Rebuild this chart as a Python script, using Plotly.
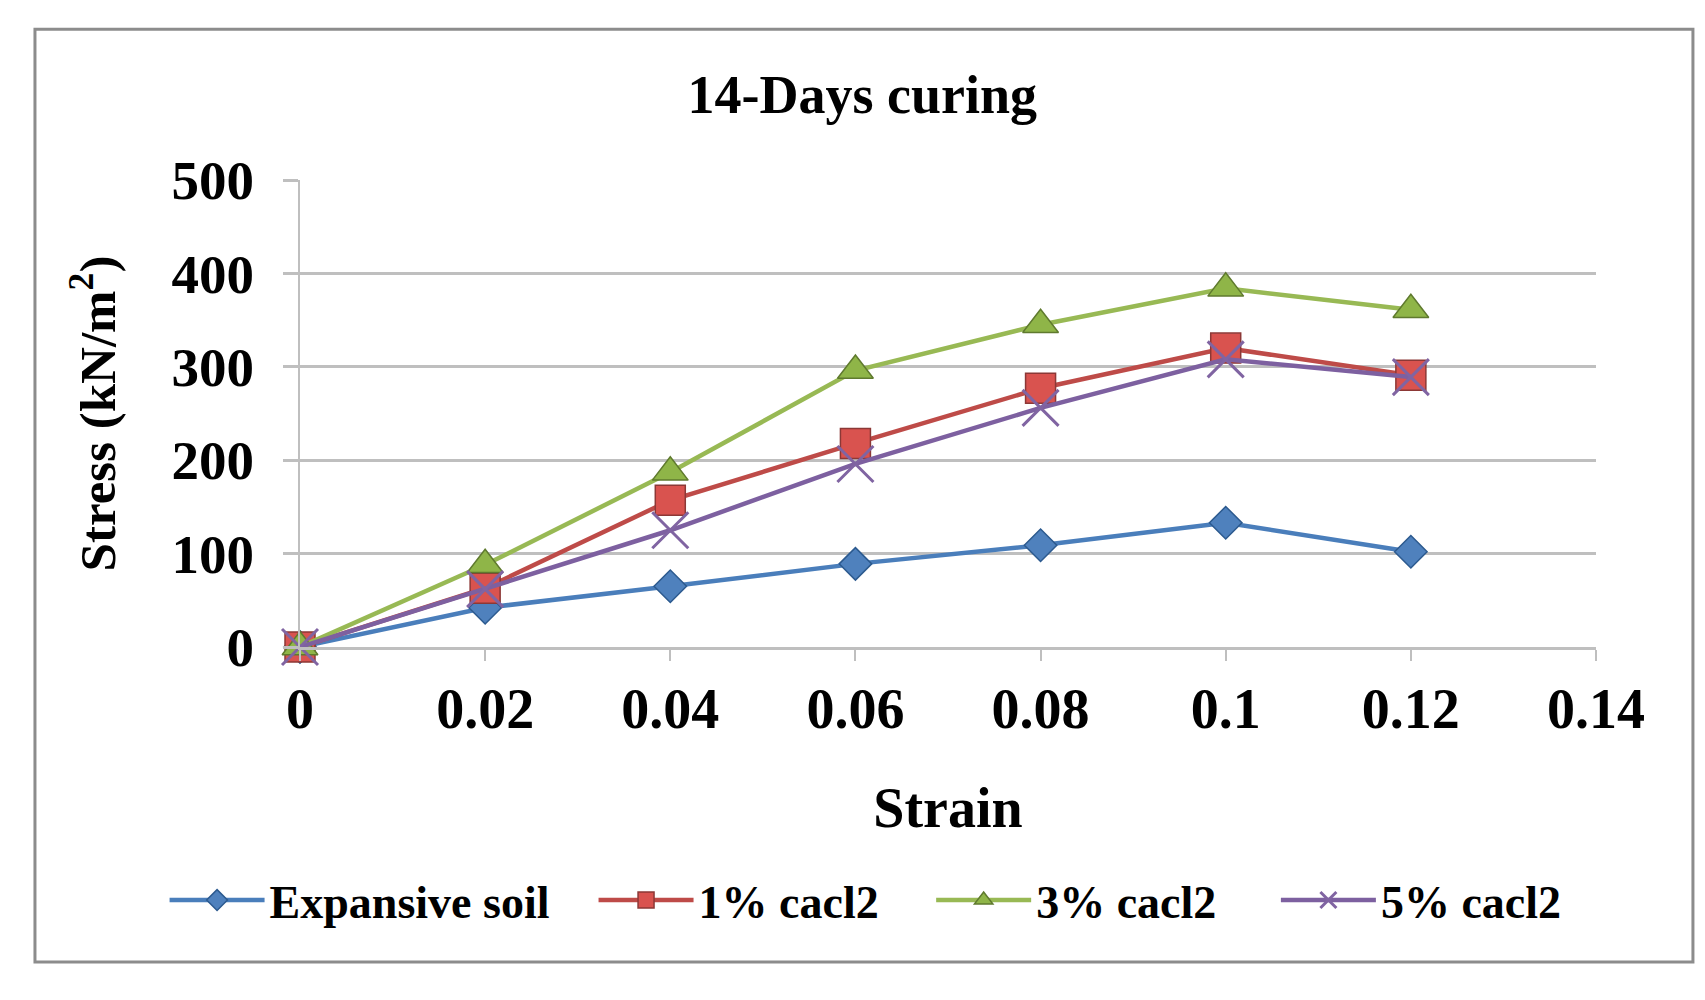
import plotly.graph_objects as go

strain = [0, 0.02, 0.04, 0.06, 0.08, 0.1, 0.12]
expansive_soil = [0, 42, 65, 89, 109, 133, 102]
cacl2_1 = [0, 63, 157, 218, 277, 320, 291]
cacl2_3 = [0, 88, 187, 296, 345, 384, 361]
cacl2_5 = [0, 62, 125, 196, 256, 308, 289]

x_ticks = [0, 0.02, 0.04, 0.06, 0.08, 0.1, 0.12, 0.14]
x_ticktext = ["0", "0.02", "0.04", "0.06", "0.08", "0.1", "0.12", "0.14"]
y_ticks = [0, 100, 200, 300, 400, 500]

FONT = "Liberation Serif, Times New Roman, serif"

# name, values, line colour, marker colour, marker edge, symbol, size, edge width, legend id, legend x
series = [
    ("Expansive soil", expansive_soil, "#4a7ebb", "#4f81bd", "#2c5a8f", "diamond", 25, 1.5, "legend", -0.1045),
    ("1% cacl2", cacl2_1, "#be4b48", "#d9534f", "#8c3836", "square", 30, 1.5, "legend2", 0.2265),
    ("3% cacl2", cacl2_3, "#98b954", "#8fb548", "#5f7a2e", "triangle-up", 31, 1.5, "legend3", 0.487),
    ("5% cacl2", cacl2_5, "#7d60a0", "#8064a2", "#8064a2", "x-thin", 36, 3, "legend4", 0.753),
]

fig = go.Figure()
legends = {}
for name, vals, lc, mc, bc, sym, size, bw, leg, lx in series:
    fig.add_trace(go.Scatter(
        x=strain, y=vals, name="<b>%s</b>" % name, mode="lines+markers",
        line=dict(color=lc, width=4.5),
        marker=dict(symbol=sym, size=size, color=mc,
                    line=dict(color=bc, width=bw)),
        cliponaxis=False, legend=leg,
    ))
    legends[leg] = dict(orientation="h", x=lx, xanchor="left", y=-0.542, yanchor="middle",
                        font=dict(size=46, family=FONT, color="black"), itemwidth=95,
                        bgcolor="rgba(0,0,0,0)")

# outer chart border
fig.add_shape(type="rect", xref="paper", yref="paper",
              x0=-0.2045, x1=1.0748, y0=-0.6745, y1=1.323,
              line=dict(color="#8c8c8c", width=3), layer="below")

fig.update_layout(
    width=1705, height=1000,
    margin=dict(l=292, r=117, t=172, b=361),
    paper_bgcolor="white", plot_bgcolor="white",
    font=dict(family=FONT, color="black"),
    title=dict(text="<b>14-Days curing</b>", x=0.501, xanchor="center",
               y=0.914, yanchor="middle", font=dict(size=54)),
    showlegend=True,
    xaxis=dict(
        range=[0, 0.14], tickvals=x_ticks, ticktext=["<b>%s</b>" % t for t in x_ticktext],
        tickfont=dict(size=56), showgrid=False, zeroline=False,
        showline=True, linecolor="#bfbfbf", linewidth=3,
        ticks="outside", ticklen=11, tickwidth=2, tickcolor="#bfbfbf",
        ticklabelstandoff=0,
        title=dict(text="<b>Strain</b>", font=dict(size=56), standoff=49),
    ),
    yaxis=dict(
        range=[0, 500], tickvals=y_ticks, ticktext=["<b>%d</b>" % t for t in y_ticks],
        tickfont=dict(size=55), showgrid=True, gridcolor="#bfbfbf", gridwidth=3,
        zeroline=False, showline=True, linecolor="#bfbfbf", linewidth=2,
        ticks="outside", ticklen=15, tickwidth=3, tickcolor="#bfbfbf",
        ticklabelstandoff=18,
        title=dict(text="<b>Stress (kN/m<sup>2</sup>)</b>", font=dict(size=51), standoff=40),
    ),
)
fig.update_layout(**legends)

fig.write_html("out.html")
